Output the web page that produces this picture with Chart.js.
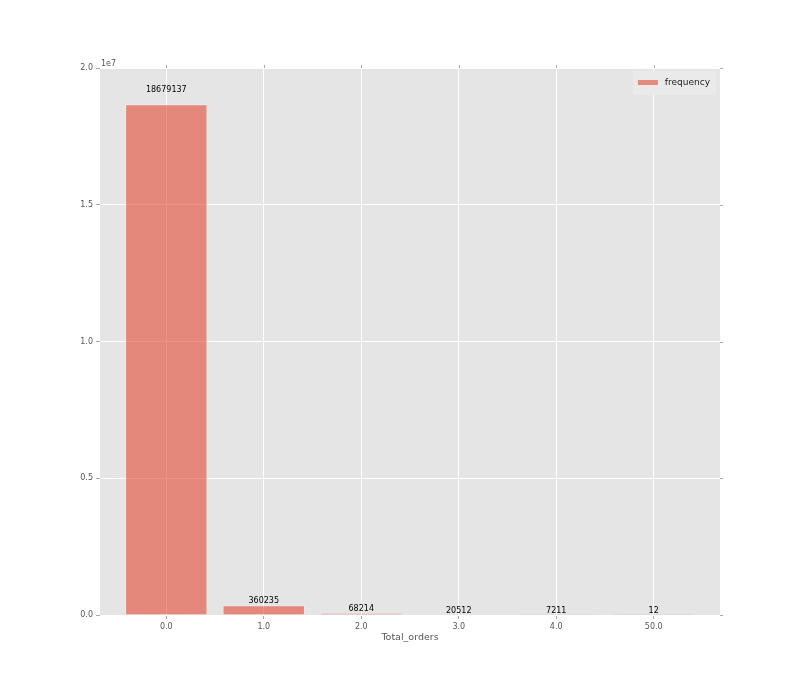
<!DOCTYPE html>
<html><head><meta charset="utf-8">
<script src="https://cdn.jsdelivr.net/npm/chart.js@4.4.1/dist/chart.umd.min.js"></script>
<style>html,body{margin:0;background:#fff}#wrap{width:800px;height:684px}</style>
</head><body><div id="wrap"><canvas id="c"></canvas></div>
<script>
// value_counts of Total_orders
const CATEGORIES=['0.0','1.0','2.0','3.0','4.0','50.0'];
const FREQUENCY=[18679137,360235,68214,20512,7211,12];
const Y_TICKS=[0,5e6,1e7,1.5e7,2e7];
const Y_MAX=2e7;

const FONT='"DejaVu Sans", Verdana, sans-serif';
const BG='#E5E5E5', TICK='#555555';
const BAR_FILL='rgba(226,74,51,0.6)';

/* ── ggplot-ish decorations: panel bg, offset text, mirrored ticks, bar labels, legend ── */
const ggPlugin={
  id:'gg',
  beforeDraw(chart){
    const {ctx,chartArea:a}=chart;
    ctx.save();ctx.fillStyle=BG;ctx.fillRect(a.left,a.top,a.right-a.left,a.bottom-a.top);ctx.restore();
  },
  afterDatasetsDraw(chart){
    const {ctx,chartArea:a,scales:{x,y}}=chart;
    ctx.save();
    // value labels at 1.02*height, bottom aligned
    ctx.font='8px '+FONT;ctx.fillStyle='#000';ctx.textAlign='center';ctx.textBaseline='bottom';
    FREQUENCY.forEach((v,i)=>ctx.fillText(String(v),x.getPixelForValue(i),y.getPixelForValue(v*1.02)));
    // offset text
    ctx.fillStyle=TICK;ctx.textAlign='left';ctx.textBaseline='bottom';
    ctx.fillText('1e7',a.left+1,a.top);
    // mirrored tick marks (top / right)
    ctx.strokeStyle='#aaaaaa';ctx.lineWidth=1;ctx.beginPath();
    CATEGORIES.forEach((_,i)=>{const px=Math.round(x.getPixelForValue(i))+.5;ctx.moveTo(px,a.top);ctx.lineTo(px,a.top-3);});
    Y_TICKS.forEach(t=>{const py=Math.round(y.getPixelForValue(t))+.5;ctx.moveTo(a.right,py);ctx.lineTo(a.right+3,py);});
    ctx.stroke();
    // legend box, upper right
    const label=chart.data.datasets[0].label;
    ctx.font='9px '+FONT;
    const w=32+ctx.measureText(label).width+6, h=24;
    const lx=a.right-4-w, ly=a.top+3;
    ctx.fillStyle='#EAEAEA';ctx.fillRect(lx,ly,w,h);
    ctx.fillStyle=BAR_FILL;ctx.fillRect(lx+5,ly+9,20,5);
    ctx.fillStyle='#222';ctx.textBaseline='middle';ctx.fillText(label,lx+32,ly+h/2);
    ctx.restore();
  }
};

new Chart(document.getElementById('c'),{
  type:'bar',
  data:{datasets:[{
    label:'frequency',
    data:FREQUENCY.map((v,i)=>({x:i,y:v})),
    backgroundColor:BAR_FILL,
    borderColor:'rgba(238,238,238,0.7)',borderWidth:1,
    barPercentage:0.845,categoryPercentage:1,
  }]},
  options:{
    responsive:true,maintainAspectRatio:false,animation:false,devicePixelRatio:1,
    layout:{padding:{top:68,right:80,left:0,bottom:0}},
    plugins:{legend:{display:false},tooltip:{enabled:false}},
    scales:{
      x:{type:'linear',min:-0.68,max:5.68,offset:false,
        afterBuildTicks:s=>{s.ticks=CATEGORIES.map((_,i)=>({value:i}));},
        afterFit:s=>{s.height=69;},
        grid:{offset:false,color:'#FFFFFF',lineWidth:1,drawTicks:true,tickLength:4,tickColor:'#aaaaaa'},
        border:{display:false},
        ticks:{color:TICK,font:{family:FONT,size:8},padding:3,maxRotation:0,autoSkip:false,callback:v=>CATEGORIES[v]??''},
        title:{display:true,text:'Total_orders',color:TICK,font:{family:FONT,size:9.5},padding:{top:4,bottom:41}}
      },
      y:{min:0,max:Y_MAX,
        afterBuildTicks:s=>{s.ticks=Y_TICKS.map(v=>({value:v}));},
        afterFit:s=>{s.width=100;},
        grid:{color:'#FFFFFF',lineWidth:1,drawTicks:true,tickLength:4,tickColor:'#aaaaaa'},
        border:{display:false},
        ticks:{color:TICK,font:{family:FONT,size:8},padding:3,callback:v=>(v/1e7).toFixed(1)}
      }
    }
  },
  plugins:[ggPlugin]
});
</script></body></html>
